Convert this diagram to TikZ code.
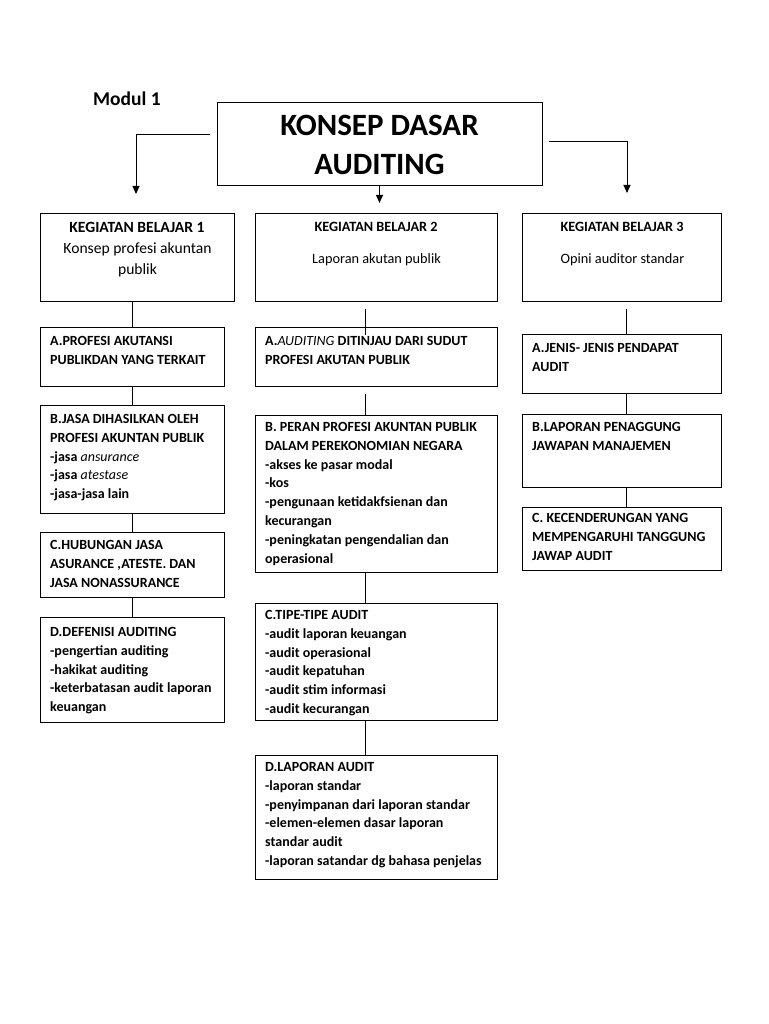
\documentclass[tikz,border=0pt]{standalone}
\usepackage{fontspec}
\setmainfont{Carlito}
\usetikzlibrary{arrows.meta,calc}
\tikzset{
  box/.style={draw=black,line width=0.9pt,inner sep=0pt,anchor=north west},
  body/.style={anchor=base west,inner sep=0pt,text width=236pt,align=flush left,
    font=\fontsize{14}{18.8}\selectfont\bfseries},
  conn/.style={draw=black,line width=1pt},
  arr/.style={conn,-{Triangle[length=8pt,width=7pt]}},
  head/.style={anchor=base,inner sep=0pt,font=\fontsize{14.2}{16}\selectfont\bfseries},
  sub/.style={anchor=base,inner sep=0pt,align=center},
}
\begin{document}
\begin{tikzpicture}[x=1pt,y=-1pt]
\useasboundingbox[fill=white] (0,0) rectangle (768,1024);

% title
\node[anchor=base west,inner sep=0pt,font=\fontsize{19.5}{22}\selectfont\bfseries] (modul) at (93,106) {Modul 1};
\node[box,minimum width=325pt,minimum height=83pt] (title) at (217,102) {};
\node[anchor=base,inner sep=0pt,font=\fontsize{31}{40}\selectfont\bfseries] (t1) at (379.5,135.5) {KONSEP DASAR};
\node[anchor=base,inner sep=0pt,font=\fontsize{31}{40}\selectfont\bfseries] (t2) at (379.5,175) {AUDITING};

% KB boxes
\node[box,minimum width=194pt,minimum height=88pt] (kb1) at (40,213) {};
\node[box,minimum width=242pt,minimum height=88pt] (kb2) at (255,213) {};
\node[box,minimum width=199pt,minimum height=88pt] (kb3) at (522,213) {};

\node[head,font=\fontsize{15.6}{16}\selectfont\bfseries] (kb1h) at (137,233) {KEGIATAN BELAJAR 1};
\node[sub,font=\fontsize{15.6}{21}\selectfont] (kb1s) at (137.5,253.5) {Konsep profesi akuntan};
\node[sub,font=\fontsize{15.6}{21}\selectfont] (kb1s2) at (137.5,274.5) {publik};
\node[head] (kb2h) at (376,232) {KEGIATAN BELAJAR 2};
\node[sub,font=\fontsize{14.3}{16}\selectfont] (kb2s) at (376.5,263.5) {Laporan akutan publik};
\node[head] (kb3h) at (622,232) {KEGIATAN BELAJAR 3};
\node[sub,font=\fontsize{14.3}{16}\selectfont] (kb3s) at (622.5,263.5) {Opini auditor standar};

% left column
\node[box,minimum width=184pt,minimum height=59pt] (a1) at (40,327) {};
\node[box,minimum width=184pt,minimum height=108pt] (b1) at (40,405) {};
\node[box,minimum width=184pt,minimum height=65pt] (c1) at (40,532) {};
\node[box,minimum width=184pt,minimum height=105pt] (d1) at (40,617) {};

\node[body] (a1t) at ($(a1.north west)+(10,18.5)$) {A.PROFESI AKUTANSI\\PUBLIKDAN YANG TERKAIT};
\node[body] (b1t) at ($(b1.north west)+(10,18.5)$) {B.JASA DIHASILKAN OLEH\\PROFESI AKUNTAN PUBLIK\\-jasa \textit{\mdseries ansurance}\\-jasa \textit{\mdseries atestase}\\-jasa-jasa lain};
\node[body] (c1t) at ($(c1.north west)+(10,17.5)$) {C.HUBUNGAN JASA\\ASURANCE ,ATESTE. DAN\\JASA NONASSURANCE};
\node[body] (d1t) at ($(d1.north west)+(10,19.5)$) {D.DEFENISI AUDITING\\-pengertian auditing\\-hakikat auditing\\-keterbatasan audit laporan\\keuangan};

% middle column
\node[box,minimum width=242pt,minimum height=59pt] (a2) at (255,327) {};
\node[box,minimum width=242pt,minimum height=157pt] (b2) at (255,415) {};
\node[box,minimum width=242pt,minimum height=117pt] (c2) at (255,603) {};
\node[box,minimum width=242pt,minimum height=124pt] (d2) at (255,755) {};

\node[body] (a2t) at ($(a2.north west)+(10,18.5)$) {A.\textit{\mdseries AUDITING} DITINJAU DARI SUDUT\\PROFESI AKUTAN PUBLIK};
\node[body] (b2t) at ($(b2.north west)+(10,16.5)$) {B. PERAN PROFESI AKUNTAN PUBLIK\\DALAM PEREKONOMIAN NEGARA\\-akses ke pasar modal\\-kos\\-pengunaan ketidakfsienan dan\\kecurangan\\-peningkatan pengendalian dan\\operasional};
\node[body] (c2t) at ($(c2.north west)+(10,16.5)$) {C.TIPE-TIPE AUDIT\\-audit laporan keuangan\\-audit operasional\\-audit kepatuhan\\-audit stim informasi\\-audit kecurangan};
\node[body] (d2t) at ($(d2.north west)+(10,16.5)$) {D.LAPORAN AUDIT\\-laporan standar\\-penyimpanan dari laporan standar\\-elemen-elemen dasar laporan\\standar audit\\-laporan satandar dg bahasa penjelas};

% right column
\node[box,minimum width=199pt,minimum height=59pt] (a3) at (522,334) {};
\node[box,minimum width=199pt,minimum height=73pt] (b3) at (522,414) {};
\node[box,minimum width=199pt,minimum height=63pt] (c3) at (522,507) {};

\node[body] (a3t) at ($(a3.north west)+(10,18.5)$) {A.JENIS- JENIS PENDAPAT\\AUDIT};
\node[body] (b3t) at ($(b3.north west)+(10,17.5)$) {B.LAPORAN PENAGGUNG\\JAWAPAN MANAJEMEN};
\node[body] (c3t) at ($(c3.north west)+(10,15.5)$) {C. KECENDERUNGAN YANG\\MEMPENGARUHI TANGGUNG\\JAWAP AUDIT};

% arrows from title
\coordinate (lend) at (136,194);
\coordinate (rend) at (627,193);
\draw[arr] ($(title.north west)+(-7,33)$) -| (lend);
\draw[arr] ($(title.north east)+(6,40)$) -| (rend);
\draw[arr] (title.south -| t2.south) -- ($(title.south -| t2.south)+(0,17)$);

% left connectors
\draw[conn] (a1.north) -- (a1.north |- kb1.south);
\draw[conn] (a1.south) -- (b1.north);
\draw[conn] (b1.south) -- (c1.north);
\draw[conn] (c1.south) -- (d1.north);

% middle connectors
\coordinate (mx) at (365,0);
\draw[conn] ($(kb2.south -| mx)+(0,7)$) -- ($(a2.north -| mx)+(0,8)$);
\draw[conn] ($(a2.south -| mx)+(0,7)$) -- (b2.north -| mx);
\draw[conn] (b2.south -| mx) -- (c2.north -| mx);
\draw[conn] (c2.south -| mx) -- (d2.north -| mx);

% right connectors
\coordinate (rx) at (626,0);
\draw[conn] ($(kb3.south -| rx)+(0,7)$) -- (a3.north -| rx);
\draw[conn] (a3.south -| rx) -- (b3.north -| rx);
\draw[conn] (b3.south -| rx) -- (c3.north -| rx);
\end{tikzpicture}
\end{document}
